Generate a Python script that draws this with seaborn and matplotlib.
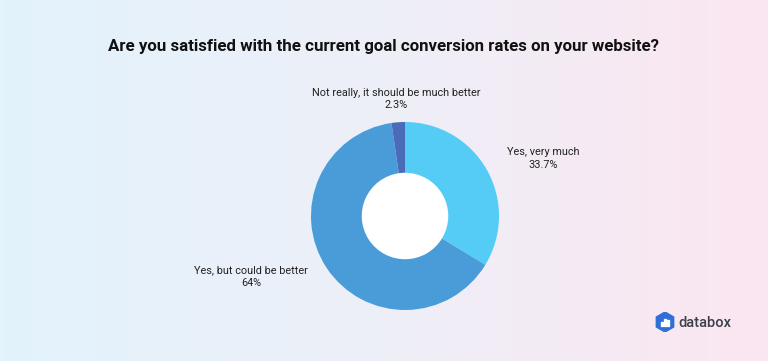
import numpy as np
import matplotlib.pyplot as plt
import seaborn as sns
from matplotlib.colors import LinearSegmentedColormap
from matplotlib.patches import RegularPolygon, Rectangle, Circle

# data
categories = ['Yes, very much', 'Yes, but could be better', 'Not really, it should be much better']
shares = [33.7, 64, 2.3]
share_labels = ['33.7%', '64%', '2.3%']
colors = ['#55ccf5', '#4a9cd8', '#4a6cb8']

sns.set_theme(style='white')
plt.rcParams['font.family'] = ['Roboto', 'DejaVu Sans']

W, H = 768, 361
fig = plt.figure(figsize=(W / 100, H / 100), dpi=100)

# gradient background
bg = fig.add_axes([0, 0, 1, 1])
grad = LinearSegmentedColormap.from_list('bg', ['#e2f3fc', '#eeeff8', '#fbe6f0'])
bg.imshow(np.linspace(0, 1, 256).reshape(1, -1), cmap=grad, aspect='auto', extent=[0, 1, 0, 1])
bg.set_xlim(0, 1)
bg.set_ylim(0, 1)
bg.axis('off')

fig.text(384 / W, 1 - 46.5 / H, 'Are you satisfied with the current goal conversion rates on your website?',
         ha='center', va='center', fontsize=12.2, fontweight='bold', color='#111111')

# donut
cx, cy, r = 405, 216, 94
ax = fig.add_axes([(cx - r) / W, (H - cy - r) / H, 2 * r / W, 2 * r / H])
ax.pie(shares, colors=colors, startangle=90, counterclock=False,
       wedgeprops=dict(width=0.54, edgecolor='none'), radius=1)
ax.add_patch(Circle((0, 0), 0.46, color='white', zorder=0))
ax.set_xlim(-1, 1)
ax.set_ylim(-1, 1)
ax.axis('off')

label_pos = [(1.468, 0.61), (-1.638, -0.65), (-0.09, 1.245)]
for cat, lab, (x, y) in zip(categories, share_labels, label_pos):
    ax.text(x, y, f'{cat}\n{lab}', ha='center', va='center', fontsize=7.8,
            color='#222222', linespacing=1.35, clip_on=False)

# databox logo
logo = fig.add_axes([655 / W, 1 - 332 / H, 20 / W, 20 / H])
logo.add_patch(RegularPolygon((0.5, 0.5), 6, radius=0.5, color='#2f6fd6'))
for bx, bh in zip([0.3, 0.46, 0.62], [0.22, 0.36, 0.28]):
    logo.add_patch(Rectangle((bx, 0.3), 0.09, bh, color='white'))
logo.set_xlim(0, 1)
logo.set_ylim(0, 1)
logo.set_aspect('equal')
logo.axis('off')
fig.text(678 / W, 1 - 323 / H, 'databox', ha='left', va='center', fontsize=10.5,
         color='#3a3f4a', fontweight='medium')

fig.savefig('out.png', dpi=100)
